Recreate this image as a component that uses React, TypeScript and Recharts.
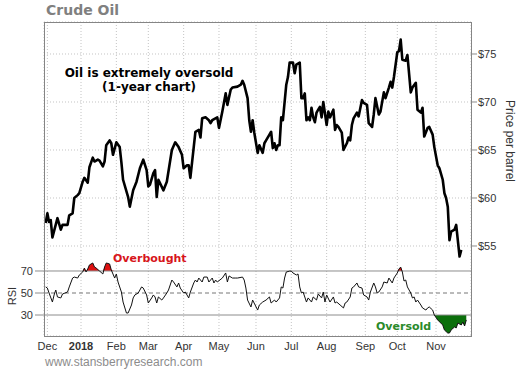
import {
  Area,
  CartesianGrid,
  ComposedChart,
  Line,
  ReferenceLine,
  XAxis,
  YAxis,
} from "recharts";

// x = trading-day index, 0 = Dec 1 2017
const monthTicks = [0, 20, 41, 60, 81, 102, 124, 145, 166, 189, 208, 231];
const monthLabels = ["Dec", "2018", "Feb", "Mar", "Apr", "May", "Jun", "Jul", "Aug", "Sep", "Oct", "Nov"];
const priceTicks = [55, 60, 65, 70, 75];
const rsiTicks = [30, 50, 70];

const priceDays = [
  -1, 0, 1, 2, 3, 6, 8, 9, 12, 13, 15, 16, 18, 19, 21, 22, 24, 25, 27, 28, 30, 31, 33, 34, 35, 37, 38, 39,
  41, 43, 44, 45, 48, 49, 51, 53, 55, 57, 59, 60, 61, 63, 64, 65, 66, 69, 71, 74, 76, 78, 80, 81, 83, 84,
  85, 87, 88, 90, 91, 92, 94, 96, 97, 98, 101, 102, 104, 106, 107, 109, 110, 113, 115, 116, 117, 119, 120,
  121, 122, 123, 125, 126, 128, 129, 130, 132, 133, 134, 135, 136, 137, 138, 139, 140, 142, 143, 144, 145,
  146, 147, 148, 150, 151, 152, 153, 154, 155, 156, 157, 158, 159, 160, 161, 162, 163, 164, 166, 167, 168,
  170, 171, 172, 173, 175, 176, 178, 179, 180, 181, 182, 184, 185, 187, 188, 190, 191, 193, 194, 195, 197,
  198, 200, 201, 203, 204, 205, 206, 208, 209, 210, 211, 213, 214, 216, 217, 219, 220, 222, 223, 224, 226,
  227, 229, 230, 232, 233, 235, 236, 237, 238, 239, 240, 242, 243, 245, 246,
];
const priceValues = [
  57.4, 58.4, 57.5, 57.7, 55.9, 57.9, 56.7, 57.2, 57.2, 58.2, 58.4, 60.0, 60.3, 60.5, 61.7, 62.1, 61.6, 63.2,
  64.2, 63.8, 64.0, 63.9, 63.3, 63.8, 65.5, 66.0, 65.7, 64.5, 65.8, 65.3, 63.7, 61.9, 60.1, 59.1, 60.8, 61.7,
  63.1, 64.0, 62.9, 61.2, 61.4, 62.6, 62.9, 60.1, 61.9, 60.8, 61.7, 65.0, 65.8, 65.3, 64.5, 63.1, 63.4, 63.4,
  62.1, 65.3, 66.9, 67.1, 66.3, 68.3, 68.4, 68.1, 67.8, 68.1, 68.4, 67.3, 69.0, 70.9, 69.7, 71.3, 71.5, 71.6,
  71.8, 72.2, 71.8, 70.4, 68.1, 66.9, 68.1, 66.8, 64.7, 65.5, 64.7, 65.7, 66.0, 66.6, 66.9, 65.2, 65.7, 65.0,
  65.5, 65.5, 68.4, 68.1, 71.8, 72.6, 74.1, 74.1, 74.1, 73.0, 73.9, 74.1, 70.4, 70.4, 70.9, 68.1, 68.4, 68.1,
  69.4, 68.4, 67.9, 68.9, 69.2, 69.5, 68.4, 70.0, 67.6, 69.0, 68.4, 69.2, 67.1, 67.6, 67.4, 66.8, 65.0, 65.7,
  66.3, 66.0, 67.6, 68.3, 68.9, 68.5, 70.2, 69.9, 69.7, 67.8, 67.4, 68.7, 70.4, 68.7, 69.0, 71.0, 70.4, 71.5,
  72.1, 71.5, 72.6, 75.2, 75.3, 76.5, 74.4, 74.3, 74.9, 71.0, 71.5, 72.0, 69.2, 68.9, 69.4, 66.4, 67.3, 67.4,
  66.6, 65.3, 63.4, 63.1, 61.9, 60.5, 60.0, 59.1, 55.6, 56.5, 56.7, 57.2, 53.9, 54.6,
];

const rsiDays = [
  -1, 0, 1, 3, 4, 5, 6, 8, 9, 12, 13, 15, 16, 18, 19, 21, 22, 23, 24, 25, 27, 28, 29, 31, 33, 34, 35, 37, 38,
  40, 41, 42, 44, 45, 47, 48, 50, 51, 52, 54, 56, 57, 59, 60, 62, 63, 64, 65, 66, 68, 69, 71, 72, 74, 75, 77,
  78, 79, 81, 82, 84, 85, 87, 88, 89, 90, 92, 93, 95, 96, 98, 99, 100, 101, 104, 106, 107, 108, 110, 112, 113,
  116, 117, 118, 119, 121, 122, 125, 126, 128, 130, 132, 133, 135, 136, 138, 139, 140, 141, 142, 144, 145, 146,
  148, 149, 150, 151, 152, 154, 155, 157, 158, 160, 161, 163, 164, 165, 166, 168, 170, 171, 172, 174, 176, 177,
  178, 180, 181, 182, 184, 185, 187, 188, 190, 191, 192, 194, 195, 196, 197, 199, 200, 202, 203, 205, 206, 208,
  209, 210, 211, 212, 213, 214, 216, 217, 218, 219, 220, 222, 223, 225, 226, 227, 229, 230, 232, 235, 236, 238,
  239, 240, 242, 243, 244, 246, 247, 248, 249,
];
const rsiValues = [
  55.5, 54.5, 50.0, 41.8, 48.2, 52.7, 46.4, 45.5, 49.1, 50.9, 55.5, 63.6, 64.5, 63.6, 66.4, 69.1, 72.7, 69.1,
  71.8, 75.5, 77.3, 73.6, 72.7, 70.0, 67.3, 73.6, 77.3, 76.4, 70.9, 63.6, 67.3, 60.0, 50.9, 41.8, 31.8, 31.8,
  39.1, 45.5, 48.2, 50.0, 55.5, 54.5, 48.2, 40.9, 45.5, 48.2, 46.4, 40.9, 46.4, 43.6, 45.5, 50.0, 52.7, 61.8,
  60.0, 55.5, 59.1, 54.5, 50.0, 50.9, 45.5, 50.9, 59.1, 61.8, 60.0, 63.6, 60.0, 64.5, 64.5, 60.0, 63.6, 59.1,
  61.8, 60.0, 63.6, 68.2, 60.0, 65.5, 63.6, 63.6, 63.6, 64.5, 61.8, 54.5, 43.6, 37.3, 43.6, 34.5, 39.1, 41.8,
  43.6, 46.4, 40.9, 43.6, 41.8, 45.5, 55.5, 54.5, 63.6, 69.1, 69.9, 69.9, 68.2, 66.4, 67.3, 55.5, 50.0, 50.9,
  41.8, 45.5, 41.8, 46.4, 43.6, 49.1, 45.5, 50.9, 41.8, 48.2, 41.8, 46.4, 40.9, 41.8, 39.1, 36.4, 40.9, 41.8,
  46.4, 54.5, 55.5, 59.1, 55.5, 54.5, 48.2, 46.4, 43.6, 50.9, 59.1, 55.5, 50.0, 50.9, 55.5, 60.0, 59.1, 63.6,
  59.1, 63.6, 68.2, 71.8, 73.6, 69.1, 60.9, 61.8, 55.5, 50.0, 45.5, 46.4, 41.8, 43.6, 39.1, 36.4, 34.5, 36.4,
  37.3, 34.5, 30.0, 25.5, 20.9, 16.4, 13.6, 13.6, 16.4, 19.1, 18.2, 22.7, 20.9, 23.6, 20.0, 25.5,
];

const priceData = priceDays.map((i, k) => ({ i, price: priceValues[k] }));
const rsiData = rsiDays.map((i, k) => ({ i, rsi: rsiValues[k] }));

const AXIS_FONT = "'Liberation Sans', Arial, sans-serif";
const TITLE_FONT = "'DejaVu Sans', Verdana, sans-serif";

function MonthTick(props: any) {
  const { x, y, payload } = props;
  const label = monthLabels[monthTicks.indexOf(payload.value)];
  return (
    <text
      x={x}
      y={y}
      dy="0.71em"
      textAnchor="middle"
      fontSize={11}
      fontFamily={AXIS_FONT}
      fontWeight={label === "2018" ? "bold" : "normal"}
      fill="#333"
    >
      {label}
    </text>
  );
}

export default function App() {
  return (
    <div style={{ position: "absolute", left: 0, top: 0, width: 522, height: 371, background: "#fff" }}>
      <ComposedChart width={522} height={371} margin={{ top: 22, right: 0, bottom: 0, left: 0 }}>
        <CartesianGrid yAxisId="price" stroke="#c4c4c4" strokeDasharray="1 2" />
        <XAxis
          dataKey="i"
          type="number"
          domain={[-2, 251.8]}
          ticks={monthTicks}
          allowDataOverflow
          tick={<MonthTick />}
          tickLine={false}
          axisLine={false}
          tickSize={0}
          tickMargin={6}
          height={35}
        />
        <YAxis
          yAxisId="rsi"
          orientation="left"
          type="number"
          domain={[10.91, 296.36]}
          allowDataOverflow
          ticks={rsiTicks}
          width={44}
          axisLine={false}
          tickLine={{ stroke: "#8c8c8c" }}
          tickSize={9}
          tickMargin={2}
          tick={{ fontSize: 11, fill: "#333", fontFamily: AXIS_FONT }}
        />
        <YAxis
          yAxisId="price"
          orientation="right"
          type="number"
          domain={[45.625, 78.333]}
          allowDataOverflow
          ticks={priceTicks}
          tickFormatter={(v) => `$${v}`}
          width={51}
          axisLine={false}
          tickLine={{ stroke: "#8c8c8c" }}
          tickSize={6}
          tickMargin={1}
          tick={{ fontSize: 11, fill: "#333", fontFamily: AXIS_FONT }}
        />
        <ReferenceLine yAxisId="rsi" y={70} stroke="#8c8c8c" />
        <ReferenceLine yAxisId="rsi" y={30} stroke="#8c8c8c" />
        <ReferenceLine yAxisId="rsi" y={50} stroke="#777" strokeDasharray="4 3" />
        <Area
          yAxisId="rsi"
          data={rsiData}
          dataKey={(d: any) => [70, Math.max(70, d.rsi)]}
          stroke="none"
          fill="#dd1111"
          fillOpacity={1}
          isAnimationActive={false}
        />
        <Area
          yAxisId="rsi"
          data={rsiData}
          dataKey={(d: any) => [Math.min(30, d.rsi), 30]}
          stroke="none"
          fill="#0b6f0b"
          fillOpacity={1}
          isAnimationActive={false}
        />
        <Line
          yAxisId="rsi"
          data={rsiData}
          dataKey="rsi"
          stroke="#111"
          strokeWidth={1}
          dot={false}
          isAnimationActive={false}
        />
        <Line
          yAxisId="price"
          data={priceData}
          dataKey="price"
          stroke="#000"
          strokeWidth={2.6}
          strokeLinejoin="round"
          dot={false}
          isAnimationActive={false}
        />
      </ComposedChart>
      <div
        style={{
          position: "absolute",
          left: 44,
          top: 22,
          width: 428,
          height: 315,
          border: "1px solid #858585",
          boxSizing: "border-box",
          pointerEvents: "none",
        }}
      />
      <svg width={522} height={371} style={{ position: "absolute", left: 0, top: 0, pointerEvents: "none" }}>
        <text x={46} y={15} fontFamily={TITLE_FONT} fontWeight="bold" fontSize={14} fill="#808080">
          Crude Oil
        </text>
        <text x={149} y={77} textAnchor="middle" fontFamily={TITLE_FONT} fontWeight="bold" fontSize={12} fill="#000">
          Oil is extremely oversold
        </text>
        <text x={149} y={91} textAnchor="middle" fontFamily={TITLE_FONT} fontWeight="bold" fontSize={12} fill="#000">
          (1-year chart)
        </text>
        <text x={113} y={262} fontFamily={TITLE_FONT} fontWeight="bold" fontSize={11} fill="#d7151b">
          Overbought
        </text>
        <text x={376} y={330} fontFamily={TITLE_FONT} fontWeight="bold" fontSize={11} fill="#2a8a2a">
          Oversold
        </text>
        <text
          x={506}
          y={141}
          textAnchor="middle"
          transform="rotate(90, 506, 141)"
          fontFamily={AXIS_FONT}
          fontSize={12}
          fill="#333"
        >
          Price per barrel
        </text>
        <text
          x={16}
          y={296}
          textAnchor="middle"
          transform="rotate(-90, 16, 296)"
          fontFamily={AXIS_FONT}
          fontSize={11}
          fill="#333"
        >
          RSI
        </text>
        <text x={45} y={366} fontFamily={AXIS_FONT} fontSize={12} fill="#8c8c8c">
          www.stansberryresearch.com
        </text>
      </svg>
    </div>
  );
}
